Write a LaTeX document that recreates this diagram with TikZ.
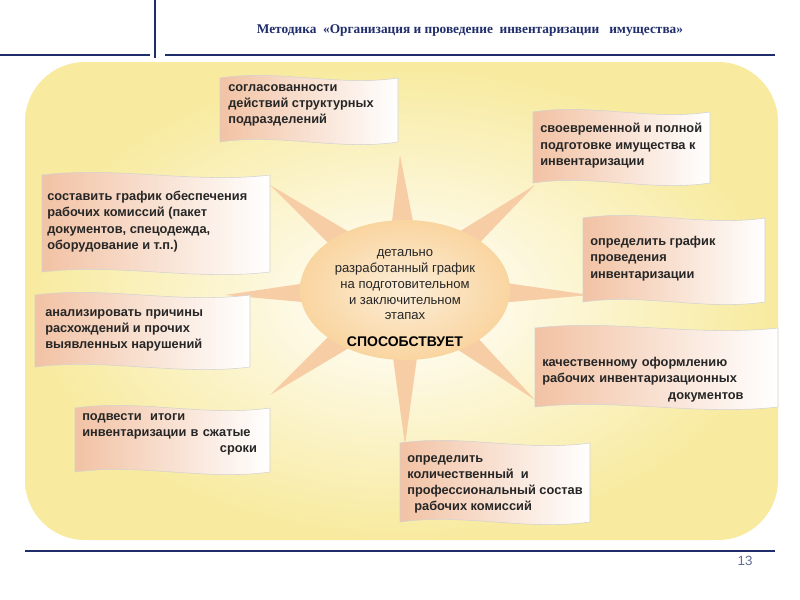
\documentclass[tikz,border=0pt]{standalone}
\usepackage{fontspec}
\setmainfont{Liberation Sans}
\newfontfamily\serifb{Liberation Serif}
\usetikzlibrary{calc,shapes.geometric}
\definecolor{navy}{HTML}{1F2D6B}
\definecolor{bannerL}{HTML}{F2C2A4}
\definecolor{bgY}{HTML}{F8EA9E}
\definecolor{rayC}{HTML}{F7CDA6}
\definecolor{ellC}{HTML}{F9D9A8}
\newcommand\banner[4]{%
  \shade[left color=bannerL,right color=white,draw=gray!35]
  (#1,#2) .. controls ({#1+(#3-#1)/3},{#2-9}) and ({#1+2*(#3-#1)/3},{#2+9}) .. (#3,#2)
  -- (#3,#4) .. controls ({#1+2*(#3-#1)/3},{#4+9}) and ({#1+(#3-#1)/3},{#4-9}) .. (#1,#4) -- cycle;}
\newcommand\ray[2]{%
  \fill[rayC] ($(C)!16pt!90:(#1,#2)$) -- (#1,#2) -- ($(C)!16pt!-90:(#1,#2)$) -- cycle;}
\begin{document}
\begin{tikzpicture}[x=0.75pt,y=-0.75pt,
  txt/.style={anchor=north west,inner sep=0pt,align=left,font=\fontsize{9.6}{12.2}\selectfont\bfseries,text=black!85}]
\useasboundingbox (0,0) rectangle (800,600);
\fill[white] (0,0) rectangle (800,600);
% header
\draw[navy,line width=1.2pt] (155,0) -- (155,58);
\draw[navy,line width=1.2pt] (0,55) -- (150,55);
\draw[navy,line width=1.5pt] (165,55) -- (775,55);
\node[inner sep=0pt,text=navy,font=\serifb\fontsize{10}{12}\selectfont\bfseries] (title) at (470,31)
  {Методика \ «Организация и проведение \ инвентаризации \ \ имущества»};
% background panel
\shade[inner color=white,outer color=bgY,rounded corners=45pt] (25,62) rectangle (778,540);
% rays
\coordinate (C) at (405,290);
\ray{400}{155}\ray{535}{185}\ray{590}{295}\ray{535}{400}\ray{405}{445}
\ray{270}{395}\ray{225}{295}\ray{270}{185}
\node[ellipse,inner sep=0pt,shade,inner color=white!55!ellC,outer color=ellC!95!orange,minimum width=157.5pt,minimum height=105pt] (E) at (C) {};
\node[inner sep=0pt,align=center,font=\fontsize{9.8}{11.8}\selectfont,text=black!85] (ctext) at (405,285)
  {детально\\разработанный график\\на подготовительном\\и заключительном\\этапах};
\node[inner sep=0pt,font=\fontsize{10.5}{12}\selectfont\bfseries] (sp) at (405,342) {СПОСОБСТВУЕТ};
% banners
\banner{220}{78}{398}{142}
\banner{533}{112}{710}{183}
\banner{42}{175}{270}{272}
\banner{583}{218}{765}{302}
\banner{35}{295}{250}{367}
\banner{535}{328}{778}{407}
\banner{75}{408}{270}{472}
\banner{400}{443}{590}{522}
\node[txt] (b1) at (228,84) {согласованности\\действий структурных\\подразделений};
\node[txt] (b2) at (540,123) {своевременной и полной\\подготовке имущества к\\инвентаризации};
\node[txt] (b3) at (47,191) {составить график обеспечения\\рабочих комиссий (пакет\\документов, спецодежда,\\оборудование и т.п.)};
\node[txt] (b4) at (590,236) {определить график\\проведения\\инвентаризации};
\node[txt] (b5) at (45,309) {анализировать причины\\расхождений и прочих\\выявленных нарушений};
\node[txt,text width=151pt] (b6) at (542,357) {качественному оформлению\\рабочих инвентаризационных\\\hspace*{\fill}документов};
\node[txt,text width=131pt] (b7) at (82,413) {подвести \ итоги\\инвентаризации в сжатые\\\hspace*{\fill}сроки};
\node[txt] (b8) at (407,455) {определить\\количественный \ и\\профессиональный состав\\\ \ рабочих комиссий};
% footer
\draw[navy,line width=1.5pt] (25,551) -- (775,551);
\node[inner sep=0pt,font=\fontsize{10}{12}\selectfont,text=navy!70] (pg) at (745,561) {13};
\end{tikzpicture}
\end{document}
